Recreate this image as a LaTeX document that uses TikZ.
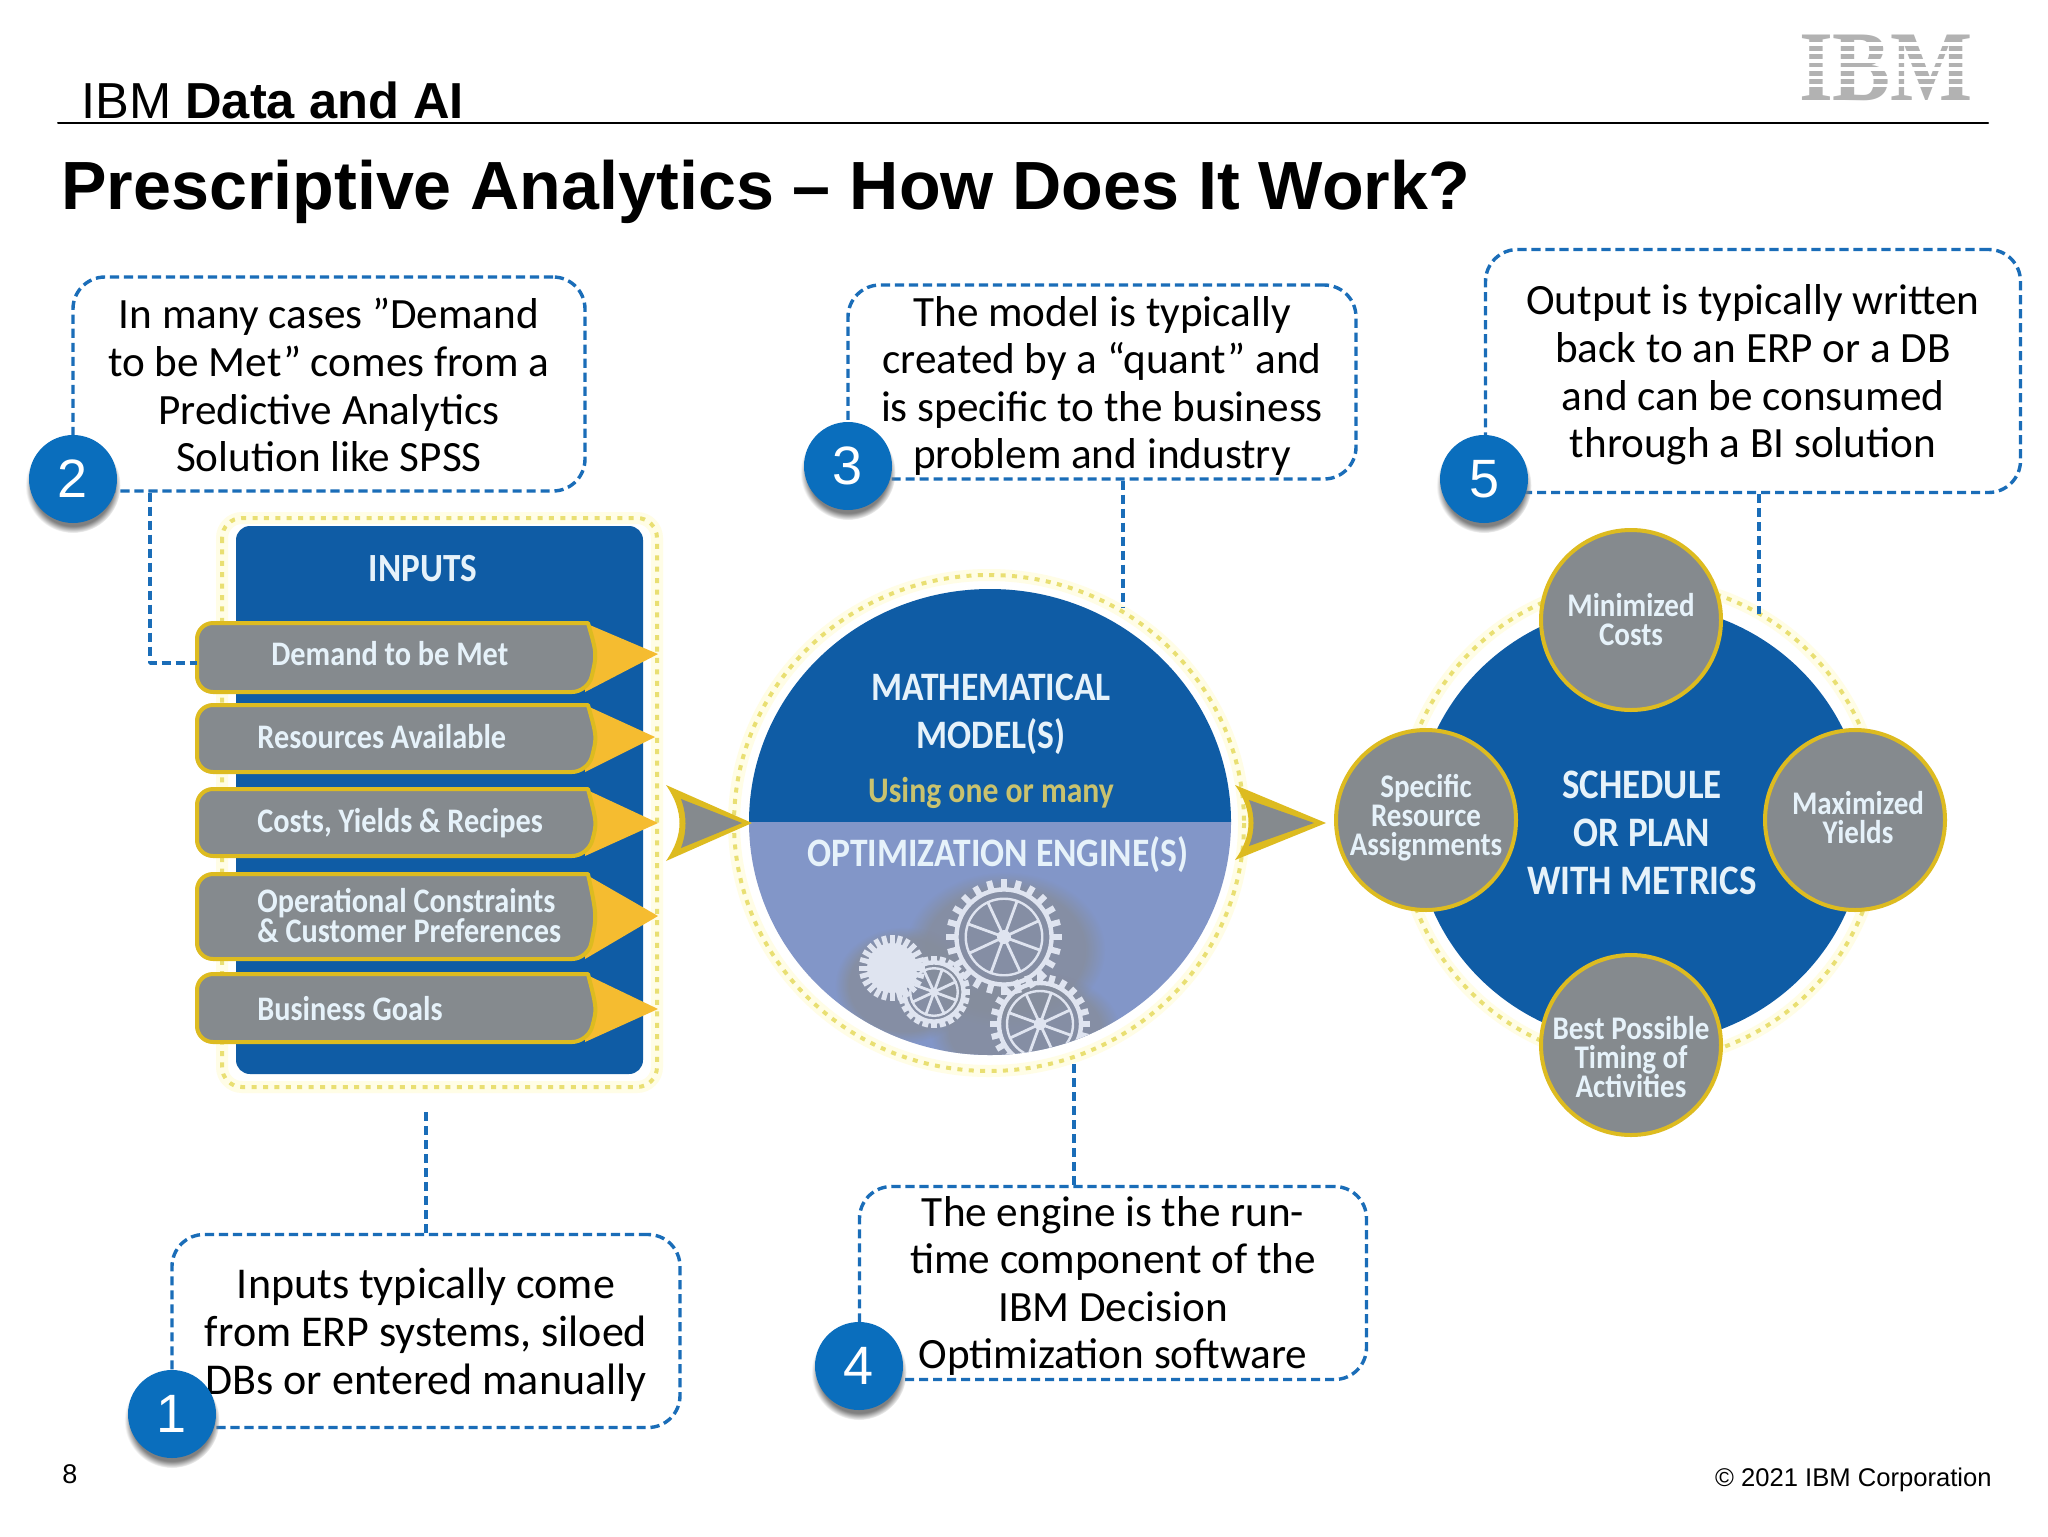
\documentclass[tikz,border=0pt]{standalone}
\usepackage{fontspec}
\usepackage{xcolor}
\usetikzlibrary{arrows.meta,calc,shadows,fadings}
\setmainfont{Liberation Sans}
\newfontfamily\callfont{Carlito}
\newfontfamily\graphfont[FakeStretch=0.88]{Carlito}
\newfontfamily\logofont[FakeStretch=0.87]{Liberation Serif}
\definecolor{panelblue}{HTML}{0F5CA5}
\definecolor{lowblue}{HTML}{8296C8}
\definecolor{badgeblue}{HTML}{0A6EBD}
\definecolor{linkblue}{HTML}{1A6DB8}
\definecolor{pillgray}{HTML}{858A8E}
\definecolor{ringyellow}{HTML}{DDBB20}
\definecolor{headyellow}{HTML}{F5BC30}
\definecolor{dotyellow}{HTML}{E9DF72}
\definecolor{haloyellow}{HTML}{FFFDE6}
\definecolor{paletext}{HTML}{E6F2FA}
\definecolor{gearwhite}{HTML}{DFE4F0}
\definecolor{blotgray}{HTML}{868D9C}
\definecolor{usingyellow}{HTML}{C9C26E}
\tikzset{
  callout/.style={draw=linkblue,line width=1.7pt,line cap=butt,dash pattern=on 4.6pt off 2.4pt,rounded corners=16pt,inner sep=0pt,align=center,font=\callfont\fontsize{21.6}{23.8}\selectfont,text=black},
  badge/.style={circle,fill=badgeblue,text=white,minimum size=44pt,inner sep=0pt,font=\fontsize{27}{27}\selectfont,circular drop shadow={shadow xshift=0pt,shadow yshift=-3pt,shadow scale=1.08}},
  link/.style={draw=linkblue,line width=1.7pt,line cap=butt,dash pattern=on 4.6pt off 2.4pt},
  dotring/.style={draw=dotyellow,line width=2pt,line cap=butt,dash pattern=on 2.5pt off 3.2pt},
  halo/.style={draw=haloyellow,line width=6pt},
  pilltext/.style={text=paletext,align=left,inner sep=0pt,font=\graphfont\bfseries\fontsize{17.2}{15}\selectfont},
  captext/.style={text=paletext,align=center,inner sep=0pt,font=\graphfont\bfseries\fontsize{20.2}{24}\selectfont},
  ringtext/.style={text=paletext,align=center,inner sep=0pt,font=\graphfont\bfseries\fontsize{16.5}{14.5}\selectfont},
  metric/.style={circle,draw=ringyellow,line width=2pt,fill=pillgray,minimum size=90pt,inner sep=0pt}
}
\newcommand{\toppad}[1]{\rule{0pt}{#1}}
\newcommand{\gearwheel}[3]{
  \foreach \a in {0,15,...,345}
    \draw [gearwhite,line width=3pt,line cap=butt] ($(#1,#2)+(\a:#3*0.82)$) -- ($(#1,#2)+(\a:#3)$);
  \draw [gearwhite,line width=2.2pt] (#1,#2) circle (#3*0.82);
  \draw [gearwhite,line width=1.2pt] (#1,#2) circle (#3*0.66);
  \foreach \a in {20,65,...,335}
    \draw [gearwhite,line width=1.4pt] (#1,#2) -- ($(#1,#2)+(\a:#3*0.66)$);
  \fill [gearwhite] (#1,#2) circle (#3*0.12);
}
\begin{document}
\begin{tikzpicture}[line cap=round,line join=round,x=0.5pt,y=-0.5pt]
\useasboundingbox (0,0) rectangle (2048,1536);
\fill [white] (0,0) rectangle (2048,1536);
\node (logo) [inner sep=0pt,text=black!30,font=\logofont\bfseries\fontsize{50}{50}\selectfont] at (1886,68) {IBM};
\foreach \y in {42.5,50.8,...,92}
  \fill [white] (1790,\y) rectangle (1985,\y+3.5);
\node (section) [anchor=base west,inner sep=0pt,font=\fontsize{25.3}{25}\selectfont] at (81,118.5) {IBM \textbf{Data and AI}};
\draw [line width=1pt] (58,123) -- (1988,123);
\node (title) [anchor=base west,inner sep=0pt,font=\bfseries\fontsize{34.1}{34}\selectfont] at (61,209.5) {Prescriptive Analytics -- How Does It Work?};
\node (pagenum) [inner sep=0pt,font=\fontsize{13.5}{13.5}\selectfont] at (70,1474) {8};
\node (copyright) [anchor=east,inner sep=0pt,font=\fontsize{12.8}{13}\selectfont] at (1992,1480) {\textcopyright{} 2021 IBM Corporation};
% inputs panel
\draw [halo,rounded corners=10pt] (222,518) rectangle (657,1087);
\draw [dotring,rounded corners=10pt] (222,518) rectangle (657,1087);
\fill [panelblue,rounded corners=7pt] (236,526) rectangle (643,1074);
\node (inputs) [captext,font=\graphfont\bfseries\fontsize{20}{20}\selectfont] at (423,569) {INPUTS};
\foreach \nm/\yt/\yb/\ym/\tx/\lx/\lbl in {demand/623/692/654/658/271/Demand to be Met,
    resources/705/772/737/655/257/Resources Available,
    costs/789/856/823/658/257/{Costs, Yields \& Recipes},
    constraints/874/959/916/658/257/{Operational Constraints\\\& Customer Preferences},
    goals/974/1042/1009/658/257/Business Goals}{
  \fill [headyellow] (585,\yt) -- (\tx,\ym) -- (585,\yb) -- cycle;
  \draw [ringyellow,line width=2pt,fill=pillgray,rounded corners=8pt] (588,\yt) -- (197,\yt) -- (197,\yb) -- (588,\yb) [sharp corners] .. controls (597,\ym) and (597,\ym) .. (588,\yt) -- cycle;
  \node (\nm) [pilltext,anchor=west] at (\lx,\ym) {\lbl};
}
% center circle
\draw [halo] (989,823) ellipse (255 and 248);
\draw [dotring] (989,823) ellipse (255 and 248);
\fill [white] (990,822) ellipse (247 and 240);
\begin{scope}
\clip (990,822) ellipse (241 and 233);
\fill [panelblue] (740,580) rectangle (1240,822);
\fill [lowblue] (740,822) rectangle (1240,1060);
\fill [blotgray,opacity=0.8,path fading=circle with fuzzy edge 20 percent] (1005,950) ellipse (100 and 78);
\fill [blotgray,opacity=0.8,path fading=circle with fuzzy edge 20 percent] (905,985) ellipse (70 and 58);
\fill [blotgray,opacity=0.8,path fading=circle with fuzzy edge 20 percent] (1025,1030) ellipse (95 and 60);
\gearwheel{1004}{937}{58}
\gearwheel{934}{992}{36}
\gearwheel{1040}{1024}{50}
\foreach \a in {0,15,...,345}
  \draw [gearwhite,line width=2.5pt,line cap=butt] ($(892,968)+(\a:24)$) -- ($(892,968)+(\a:33)$);
\fill [gearwhite] (892,968) circle (25);
\end{scope}
\node (mathmodel) [captext] at (991,714) {MATHEMATICAL\\MODEL(S)};
\node (usingtext) [text=usingyellow,inner sep=0pt,font=\graphfont\bfseries\fontsize{18}{18}\selectfont] at (991,793) {Using one or many};
\node (engine) [captext] at (998,855) {OPTIMIZATION ENGINE(S)};
% flow arrows
\fill [ringyellow] (666,785) -- (752,823) -- (666,861) .. controls (684,835) and (684,811) .. (666,785) -- cycle;
\fill [pillgray] (681,799) -- (742,823) -- (681,848) .. controls (687,832) and (687,815) .. (681,799) -- cycle;
\fill [ringyellow] (1235,785) -- (1326,823) -- (1235,860) .. controls (1253,835) and (1253,810) .. (1235,785) -- cycle;
\fill [pillgray] (1249,800) -- (1314,823) -- (1249,846) .. controls (1255,832) and (1255,814) .. (1249,800) -- cycle;
% schedule cluster
\draw [halo] (1640,822) circle (240);
\draw [dotring] (1640,822) circle (240);
\fill [white] (1640,822) ellipse (233 and 229);
\fill [panelblue] (1640,824) ellipse (225 and 220);
\node (schedule) [captext,font=\graphfont\bfseries\fontsize{21}{24}\selectfont] at (1642,833) {SCHEDULE\\OR PLAN\\WITH METRICS};
\node (minimized) [metric] at (1631,620) {};
\node (maximized) [metric] at (1855,820) {};
\node (timing) [metric] at (1631,1045) {};
\node (specific) [metric] at (1426,820) {};
\node (minimizedtext) [ringtext] at (1631,620) {Minimized\\Costs};
\node (maximizedtext) [ringtext] at (1858,818) {Maximized\\Yields};
\node (timingtext) [ringtext] at (1631,1057) {Best Possible\\Timing of\\Activities};
\node (specifictext) [ringtext] at (1426,818) {Specific\\Resource\\Assignments};
% callouts
\node (demandcall) [callout,minimum width=256pt,minimum height=107pt] at (329,384) {\toppad{16.5pt}In many cases ”Demand\\to be Met” comes from a\\Predictive Analytics\\Solution like SPSS};
\node (modelcall) [callout,minimum width=254pt,minimum height=97pt] at (1102,382) {\toppad{19pt}The model is typically\\created by a “quant” and\\is specific to the business\\problem and industry};
\node (outputcall) [callout,minimum width=267.5pt,minimum height=121.5pt] at (1753,371) {\toppad{19pt}Output is typically written\\back to an ERP or a DB\\and can be consumed\\through a BI solution};
\node (inputcall) [callout,font=\callfont\fontsize{22}{23.8}\selectfont,minimum width=254pt,minimum height=96.5pt] at (426,1331) {\toppad{19pt}Inputs typically come\\from ERP systems, siloed\\DBs or entered manually};
\node (enginecall) [callout,minimum width=253.5pt,minimum height=96.5pt] at (1113,1283) {\toppad{18pt}The engine is the run-\\time component of the\\IBM Decision\\Optimization software};
\coordinate (demandend) at (150,663);
\coordinate (modelend) at (1123,607);
\coordinate (outputend) at (1759,614);
\coordinate (inputend) at (426,1110);
\coordinate (engineend) at (1074,1060);
\draw [link] (demandcall.south -| demandend) -- (demandend) -- (197,663);
\draw [link] (modelcall.south -| modelend) -- (modelend);
\draw [link] (outputcall.south -| outputend) -- (outputend);
\draw [link] (inputcall.north -| inputend) -- (inputend);
\draw [link] (enginecall.north -| engineend) -- (engineend);
\node (badgetwo) [badge] at (73,479) {2};
\node (badgethree) [badge] at (848,466) {3};
\node (badgefive) [badge] at (1484,479) {5};
\node (badgeone) [badge] at (172,1414) {1};
\node (badgefour) [badge] at (859,1366) {4};
\end{tikzpicture}
\end{document}
